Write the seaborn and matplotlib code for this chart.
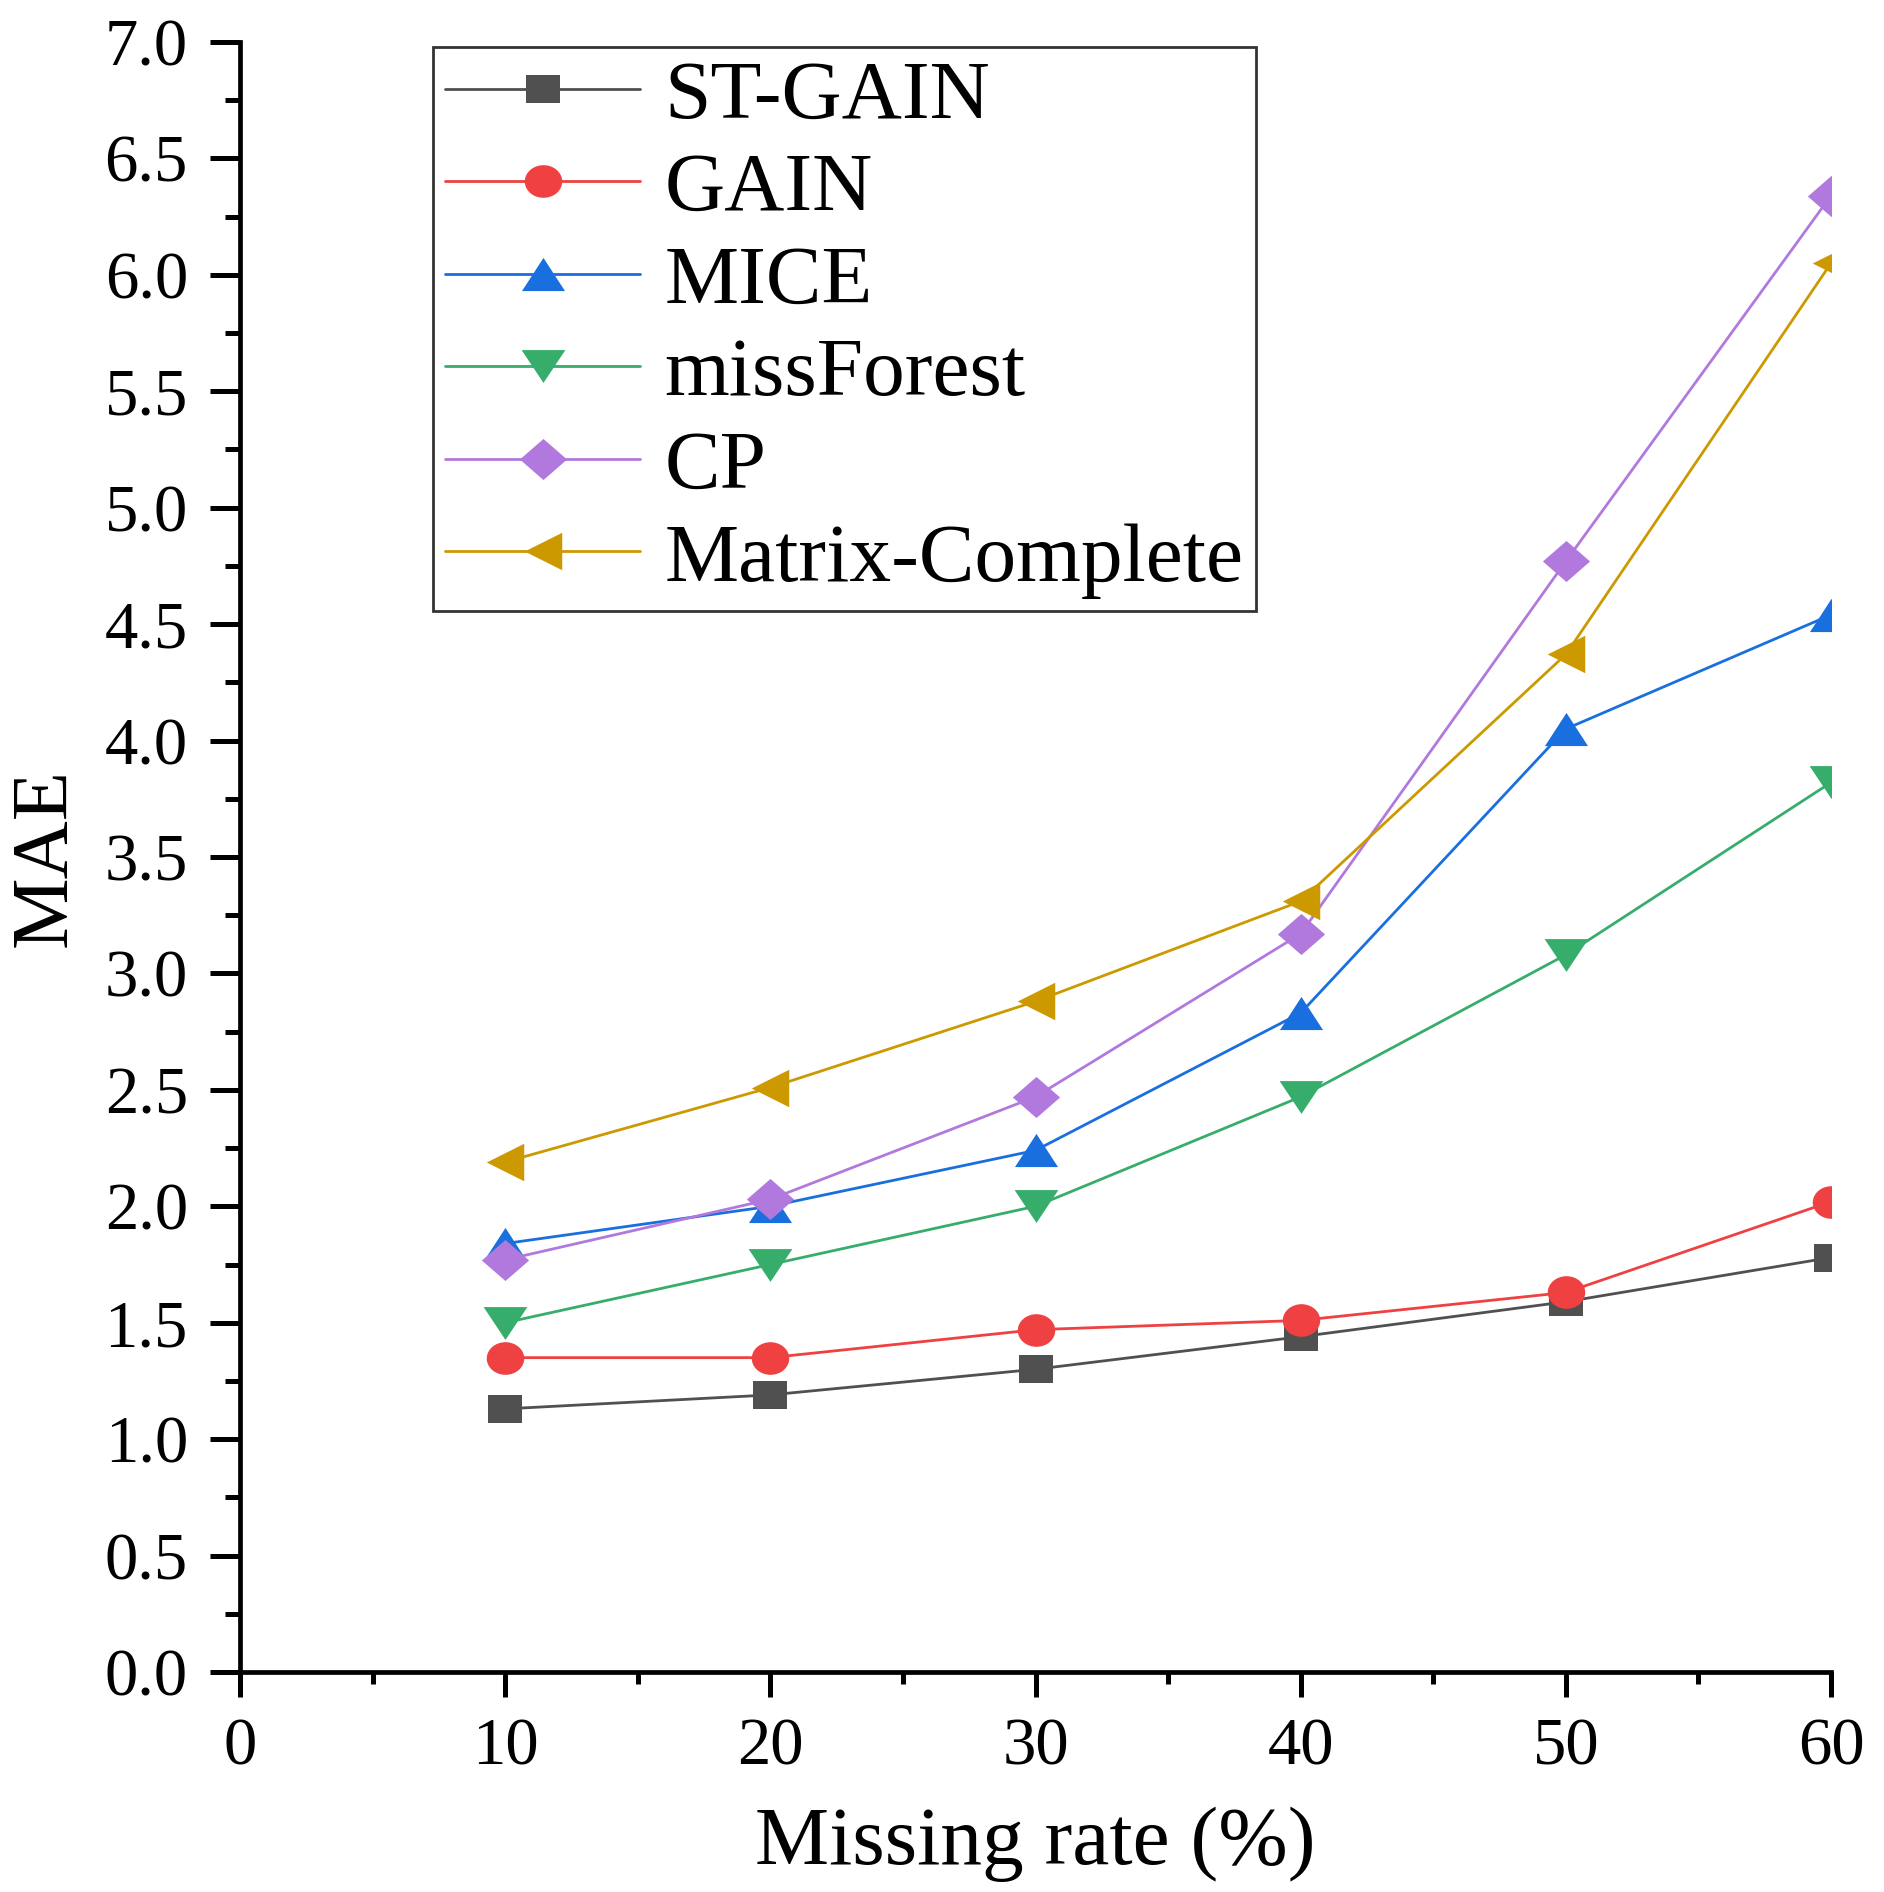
import matplotlib
matplotlib.use("Agg")
import matplotlib.pyplot as plt
import seaborn as sns
import pandas as pd
import numpy as np
from matplotlib.ticker import MultipleLocator
from matplotlib.path import Path
from matplotlib.transforms import Affine2D

missing_rate = [10, 20, 30, 40, 50, 60]
st_gain = [1.13, 1.19, 1.30, 1.44, 1.59, 1.78]
gain = [1.35, 1.35, 1.47, 1.51, 1.63, 2.02]
mice = [1.84, 2.00, 2.24, 2.83, 4.05, 4.54]
missforest = [1.50, 1.75, 2.00, 2.47, 3.08, 3.82]
cp = [1.77, 2.03, 2.47, 3.17, 4.77, 6.34]
matrix_complete = [2.19, 2.51, 2.88, 3.31, 4.37, 6.05]

methods = ["ST-GAIN", "GAIN", "MICE", "missForest", "CP", "Matrix-Complete"]
values = [st_gain, gain, mice, missforest, cp, matrix_complete]
colors = ["#505050", "#ef4141", "#1a6fdf", "#37ad6b", "#b178de", "#cc9900"]


def poly(pts):
    pts = list(pts) + [pts[0]]
    codes = [Path.MOVETO] + [Path.LINETO] * (len(pts) - 2) + [Path.CLOSEPOLY]
    return Path(np.array(pts, dtype=float), codes)


# marker shapes (slightly wider than tall, as in the reference)
mk_square = poly([(-1, -0.85), (1, -0.85), (1, 0.85), (-1, 0.85)])
mk_circle = Path.unit_circle().transformed(Affine2D().scale(1.0, 0.87))
mk_up = poly([(0, 0.77), (-1, -0.77), (1, -0.77)])
mk_down = poly([(0, -0.75), (-1, 0.75), (1, 0.75)])
mk_diamond = poly([(0, 0.87), (-1, 0), (0, -0.87), (1, 0)])
mk_left = poly([(-1, 0), (1, -1), (1, 1)])
markers = [mk_square, mk_circle, mk_up, mk_down, mk_diamond, mk_left]
msizes = [24, 27, 31, 31.5, 34, 27]

rows = []
for m, vals in zip(methods, values):
    for x, v in zip(missing_rate, vals):
        rows.append({"Missing rate (%)": x, "MAE": v, "Method": m})
df = pd.DataFrame(rows)

sns.set_theme(style="white")
plt.rcParams["font.family"] = ["Liberation Serif", "DejaVu Serif"]
plt.rcParams["mathtext.fontset"] = "stix"
for k in ["text.color", "axes.labelcolor", "xtick.color", "ytick.color"]:
    plt.rcParams[k] = "black"

fig = plt.figure(figsize=(18.84, 18.92), dpi=100)
L, R, T, B = 240, 1831, 42, 1672
ax = fig.add_axes([L / 1884, 1 - B / 1892, (R - L) / 1884, (B - T) / 1892])

for m, c, mk, ms in zip(methods, colors, markers, msizes):
    sub = df[df["Method"] == m]
    sns.lineplot(data=sub, x="Missing rate (%)", y="MAE", ax=ax, color=c,
                 marker=mk, markersize=ms, markeredgewidth=0, linewidth=2.0,
                 label=m, clip_on=True)

ax.set_xlim(0, 60)
ax.set_ylim(0, 7.0)
ax.xaxis.set_major_locator(MultipleLocator(10))
ax.xaxis.set_minor_locator(MultipleLocator(5))
ax.yaxis.set_major_locator(MultipleLocator(0.5))
ax.yaxis.set_minor_locator(MultipleLocator(0.25))
ax.set_yticklabels([f"{v:.1f}" for v in ax.get_yticks()])

for s in ["top", "right"]:
    ax.spines[s].set_visible(False)
for s in ["left", "bottom"]:
    ax.spines[s].set_linewidth(3.4)
    ax.spines[s].set_color("black")

ax.tick_params(axis="x", which="major", direction="out", length=18, width=3.6,
               labelsize=48, color="black", labelcolor="black", pad=15, bottom=True)
ax.tick_params(axis="y", which="major", direction="out", length=21.5, width=3.6,
               labelsize=48, color="black", labelcolor="black", pad=16, left=True)
ax.tick_params(axis="x", which="minor", direction="out", length=8.6, width=3.6,
               color="black", bottom=True)
ax.tick_params(axis="y", which="minor", direction="out", length=10.8, width=3.6,
               color="black", left=True)

ax.set_xlabel("Missing rate (%)", fontsize=60, labelpad=20)
ax.set_ylabel("MAE", fontsize=58, labelpad=16)

leg = ax.legend(loc="upper left", bbox_to_anchor=(0.1212, 0.997), fontsize=60,
                frameon=True, fancybox=False, edgecolor="black", handlelength=2.34,
                handletextpad=0.29, borderpad=0.15, labelspacing=0.195, borderaxespad=0)
leg.get_frame().set_linewidth(2)

fig.savefig("out.png", dpi=100)
